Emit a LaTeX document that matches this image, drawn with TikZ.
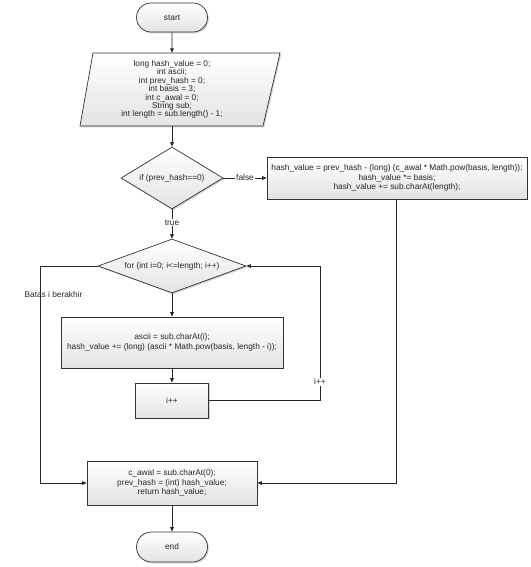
\documentclass[tikz,border=0pt]{standalone}
\usepackage{fontspec}
\setmainfont{Liberation Sans}
\usetikzlibrary{shapes.geometric,shapes.misc,shadows,arrows.meta}
\begin{document}
\begin{tikzpicture}[x=1pt,y=-1pt,
  every node/.style={font=\fontsize{8.3}{9.5}\selectfont, text=black!85},
  fillstyle/.style={draw=black!80, line width=0.7pt, top color=white, bottom color=gray!22,
    drop shadow={shadow xshift=1.3pt, shadow yshift=-1.3pt, fill=black!35}},
  box/.style={fillstyle, align=center, inner sep=1pt},
  term/.style={box, rounded rectangle, minimum width=73pt, minimum height=29pt},
  dec/.style={box, diamond, inner sep=0pt},
  arr/.style={draw=black!85, line width=0.7pt, -{Triangle[length=4.5pt,width=3.6pt]}},
  lbl/.style={fill=white, inner sep=1pt}
]
\useasboundingbox (0,0) rectangle (530,567);

\node[term] (start) at (172,17.5) {start};
\path[fillstyle] (80,126) -- (93,53) -- (280,53) -- (263,126) -- cycle;
\node[align=center, font=\fontsize{8.3}{8.45}\selectfont, minimum height=73pt, inner sep=0pt]
  (init) at (172,89.5) {long hash\_value = 0;\\int ascii;\\int prev\_hash = 0;\\int basis = 3;\\int c\_awal = 0;\\String sub;\\int length = sub.length() - 1;};
\node[dec, minimum width=102pt, minimum height=62pt, aspect=1.65] (if1) at (172,178) {if (prev\_hash==0)};
\node[box, minimum width=260pt, minimum height=42pt] (upd) at (397,178)
  {hash\_value = prev\_hash - (long) (c\_awal * Math.pow(basis, length));\\hash\_value *= basis;\\hash\_value += sub.charAt(length);};
\node[dec, minimum width=148pt, minimum height=54pt, aspect=2.7] (for) at (172,266) {for (int i=0; i<=length; i++)};
\node[box, minimum width=222pt, minimum height=51pt] (body) at (172,342.5)
  {ascii = sub.charAt(i);\\hash\_value += (long) (ascii * Math.pow(basis, length - i));};
\node[box, minimum width=73pt, minimum height=35pt] (inc) at (172,400.5) {i++};
\node[box, minimum width=170pt, minimum height=44pt] (fin) at (172,483)
  {c\_awal = sub.charAt(0);\\prev\_hash = (int) hash\_value;\\return hash\_value;};
\node[term, minimum height=30pt] (end) at (172,547) {end};

\coordinate (rc) at (320,266);
\coordinate (lc) at (40,266);

\draw[arr] (start) -- (init.north);
\draw[arr] (init.south) -- (if1.north);
\draw[arr] (if1.east) -- node[lbl]{false} (upd.west);
\draw[arr] (if1.south) -- node[lbl, pos=0.45]{true} (for.north);
\draw[arr] (for.south) -- (body.north);
\draw[arr] (body.south) -- (inc.north);
\draw[arr] (inc.east) -| node[lbl, pos=0.57]{i++} (rc) -- (for.east);
\draw[arr] (for.west) -- (lc) |- (fin.west);
\draw[arr] (upd.south -| 396,0) |- (fin.east);
\draw[arr] (fin.south) -- (end.north);

\node (batas) at (53.5,295) {Batas i berakhir};
\end{tikzpicture}
\end{document}
